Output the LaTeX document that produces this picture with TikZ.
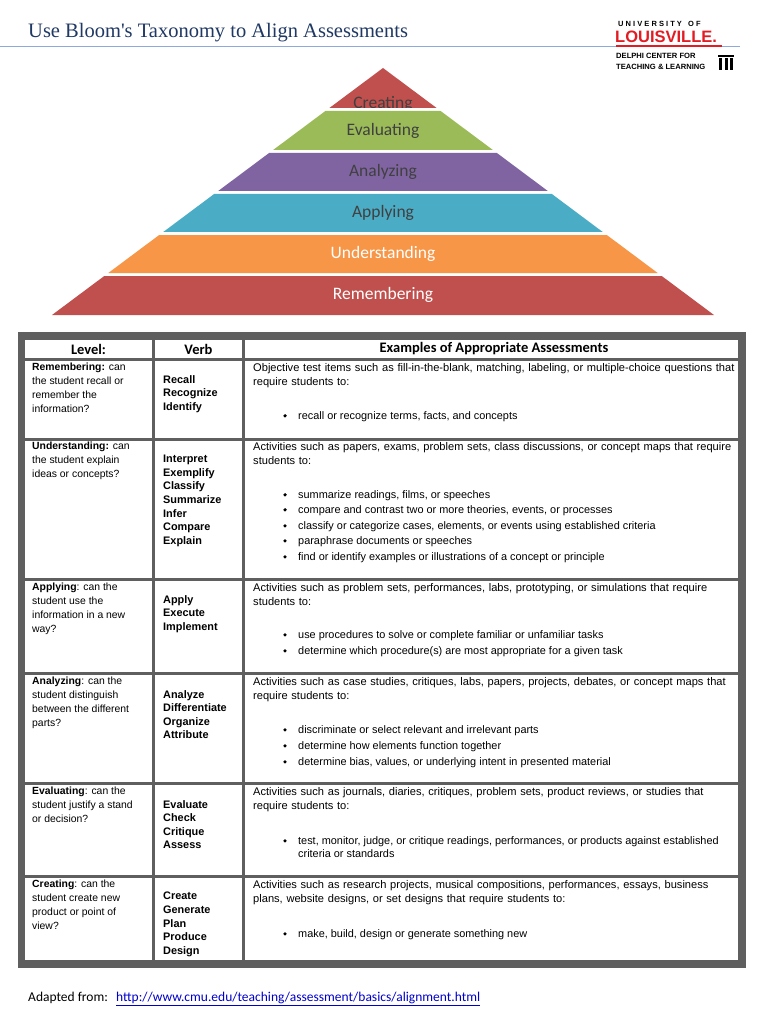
\documentclass[tikz,border=0pt]{standalone}
\usepackage{fontspec}
\setmainfont{Liberation Sans}
\newfontfamily\carl{Carlito}
\newfontfamily\titlef{Liberation Serif}
\usepackage{xcolor}
\definecolor{cRed}{HTML}{C0504D}
\definecolor{cGreen}{HTML}{9BBB59}
\definecolor{cPurple}{HTML}{8064A2}
\definecolor{cTeal}{HTML}{4BACC6}
\definecolor{cOrange}{HTML}{F79646}
\definecolor{tblue}{HTML}{1F3864}
\definecolor{lineblue}{HTML}{8EAADB}
\definecolor{ulred}{HTML}{E31B23}
\definecolor{frame}{HTML}{5F5F5F}
\begin{document}
\hyphenpenalty=10000 \exhyphenpenalty=10000
\begin{tikzpicture}[x=1pt,y=-1pt,
  blab/.style={font=\carl\fontsize{17.5}{18}\selectfont},
  txt/.style={anchor=north west,inner sep=0pt,align=left,font=\fontsize{11.1}{13.8}\selectfont},
  ltxt/.style={anchor=north west,inner sep=0pt,align=left,font=\fontsize{10.4}{13.8}\selectfont},
  hdr/.style={font=\carl\bfseries\fontsize{14.5}{15}\selectfont},
  bul/.style={anchor=base west,inner sep=0pt,font=\fontsize{10.9}{13}\selectfont},
  verb/.style={anchor=north west,inner sep=0pt,align=left,font=\bfseries\fontsize{10.9}{13.6}\selectfont}]
\useasboundingbox (0,0) rectangle (768,1024);
\fill[white] (0,0) rectangle (768,1024);
% title
\node[anchor=base west,inner sep=0pt,text=tblue,font=\titlef\fontsize{20.5}{22}\selectfont] (title) at (28,38) {Use Bloom's Taxonomy to Align Assessments};
\draw[lineblue,line width=0.8pt] (0,46) -- (740,46);
% logo
\node[anchor=base west,inner sep=0pt,font=\bfseries\fontsize{7.5}{8}\selectfont] (lu) at (618,27) {U\ N\ I\ V\ E\ R\ S\ I\ T\ Y\ \ \ O\ F};
\node[anchor=base west,inner sep=0pt,text=ulred,font=\bfseries\fontsize{16.5}{17}\selectfont] (ll) at (615,43) {LOUISVILLE.};
\draw[ulred,line width=1.2pt] (616,46) -- (722,46);
\node[anchor=base west,inner sep=0pt,font=\bfseries\fontsize{7.6}{8}\selectfont] (ld) at (616,59) {DELPHI CENTER FOR};
\node[anchor=base west,inner sep=0pt,font=\bfseries\fontsize{7.6}{8}\selectfont] (lt) at (616,70) {TEACHING \& LEARNING};
\fill (718,55) rectangle (734,57);
\fill (719,58) rectangle (722,70); \fill (724.5,58) rectangle (727.5,70); \fill (730,58) rectangle (733,70);
% pyramid
\def\hw#1{1.34*(#1-68)}
\fill[cGreen] ({383-\hw{111}},111) -- ({383+\hw{111}},111) -- ({383+\hw{150}},150) -- ({383-\hw{150}},150) -- cycle;
\fill[cPurple] ({383-\hw{153}},153) -- ({383+\hw{153}},153) -- ({383+\hw{191}},191) -- ({383-\hw{191}},191) -- cycle;
\fill[cTeal] ({383-\hw{194}},194) -- ({383+\hw{194}},194) -- ({383+\hw{232}},232) -- ({383-\hw{232}},232) -- cycle;
\fill[cOrange] ({383-\hw{235}},235) -- ({383+\hw{235}},235) -- ({383+\hw{273}},273) -- ({383-\hw{273}},273) -- cycle;
\fill[cRed] ({383-\hw{276}},276) -- ({383+\hw{276}},276) -- ({383+\hw{315}},315) -- ({383-\hw{315}},315) -- cycle;
\node[blab,text=black!75] (p2) at (383,131) {Evaluating};
\node[blab,text=black!75] (p3) at (383,172) {Analyzing};
\node[blab,text=black!75] (p4) at (383,213) {Applying};
\node[blab,text=white] (p5) at (383,254) {Understanding};
\node[blab,text=white] (p6) at (383,295) {Remembering};
\fill[cRed] (383,68) -- ({383+\hw{108}},108) -- ({383-\hw{108}},108) -- cycle;
\begin{scope}
\clip (383,68) -- ({383+\hw{108}},108) -- ({383-\hw{108}},108) -- cycle;
\node[blab,text=black!75] (p1) at (383,104) {Creating};
\end{scope}
% table frame
\fill[frame] (18,332) rectangle (746,968);
\foreach \ya/\yb in {340/358,361/438,441/578,581/672,675/782,785/875,878/960}{
  \fill[white] (25,\ya) rectangle (152,\yb);
  \fill[white] (155,\ya) rectangle (242,\yb);
  \fill[white] (245,\ya) rectangle (738,\yb);
}
\node[hdr] (h1) at (88.5,349) {Level:};
\node[hdr] (h2) at (198.5,349) {Verb};
\node[hdr] (h3) at (494,349) {Examples of Appropriate Assessments};
% column 1
\node[ltxt] (l1) at (32,363) {\textbf{Remembering:} can\\the student recall or\\remember the\\information?};
\node[ltxt] (l2) at (32,442) {\textbf{Understanding:} can\\the student explain\\ideas or concepts?};
\node[ltxt] (l3) at (32,583) {\textbf{Applying}: can the\\student use the\\information in a new\\way?};
\node[ltxt] (l4) at (32,677) {\textbf{Analyzing}: can the\\student distinguish\\between the different\\parts?};
\node[ltxt] (l5) at (32,787) {\textbf{Evaluating}: can the\\student justify a stand\\or decision?};
\node[ltxt] (l6) at (32,880) {\textbf{Creating}: can the\\student create new\\product or point of\\view?};
% column 2
\node[verb] (v1) at (163,375) {Recall\\Recognize\\Identify};
\node[verb] (v2) at (163,455) {Interpret\\Exemplify\\Classify\\Summarize\\Infer\\Compare\\Explain};
\node[verb] (v3) at (163,595) {Apply\\Execute\\Implement};
\node[verb] (v4) at (163,690) {Analyze\\Differentiate\\Organize\\Attribute};
\node[verb] (v5) at (163,800) {Evaluate\\Check\\Critique\\Assess};
\node[verb] (v6) at (163,892) {Create\\Generate\\Plan\\Produce\\Design};
% column 3
\node[txt,text width=484] (e1) at (253,363) {Objective test items such as fill-in-the-blank, matching, labeling, or multiple-choice questions that require students to:};
\node[txt,text width=484] (e2) at (253,442) {Activities such as papers, exams, problem sets, class discussions, or concept maps that require students to:};
\node[txt,text width=484] (e3) at (253,583) {Activities such as problem sets, performances, labs, prototyping, or simulations that require students to:};
\node[txt,text width=484] (e4) at (253,677) {Activities such as case studies, critiques, labs, papers, projects, debates, or concept maps that require students to:};
\node[txt,text width=484] (e5) at (253,787) {Activities such as journals, diaries, critiques, problem sets, product reviews, or studies that\\require students to:};
\node[txt,text width=484] (e6) at (253,880) {Activities such as research projects, musical compositions, performances, essays, business\\plans, website designs, or set designs that require students to:};
\foreach \y/\t in {419/{recall or recognize terms, facts, and concepts},
  498/{summarize readings, films, or speeches},
  513/{compare and contrast two or more theories, events, or processes},
  529/{classify or categorize cases, elements, or events using established criteria},
  544/{paraphrase documents or speeches},
  560/{find or identify examples or illustrations of a concept or principle},
  638/{use procedures to solve or complete familiar or unfamiliar tasks},
  654/{determine which procedure(s) are most appropriate for a given task},
  733/{discriminate or select relevant and irrelevant parts},
  749/{determine how elements function together},
  765/{determine bias, values, or underlying intent in presented material},
  844/{test, monitor, judge, or critique readings, performances, or products against established},
  857/{criteria or standards},
  937/{make, build, design or generate something new}}{
  \node[bul] at (298,\y) {\t};
}
\foreach \y in {419,498,513,529,544,560,638,654,733,749,765,844,937}{
  \fill (285,\y-3.2) circle (1.8);
}
% footer
\node[anchor=base west,inner sep=0pt,font=\carl\fontsize{13.5}{14}\selectfont] (f1) at (28,1001) {Adapted from:};
\node[anchor=base west,inner sep=0pt,text=blue!80!black,font=\carl\fontsize{13.5}{14}\selectfont] (f2) at (116,1001) {\underline{http://www.cmu.edu/teaching/assessment/basics/alignment.html}};
\end{tikzpicture}
\end{document}
